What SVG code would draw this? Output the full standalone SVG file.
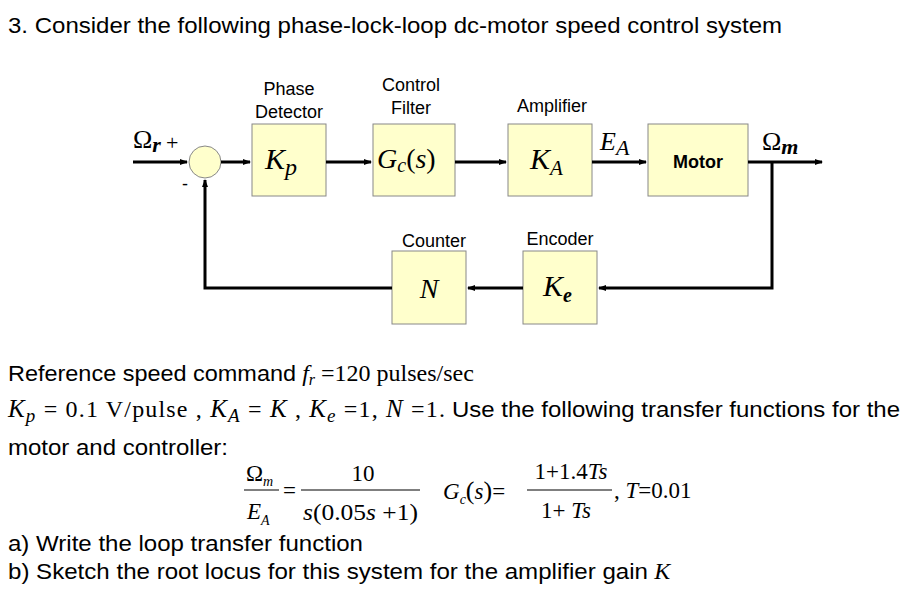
<svg xmlns="http://www.w3.org/2000/svg" width="913" height="592" viewBox="0 0 913 592">
<defs>
<marker id="ar" markerWidth="8" markerHeight="8" refX="7" refY="4" orient="auto" markerUnits="userSpaceOnUse"><path d="M0,1 L8,4 L0,7 z" fill="#000"/></marker>
</defs>
<style>
.b{fill:#ffffcc;stroke:#888;stroke-width:1}
.w{stroke:#000;stroke-width:3;fill:none}
.s{font-family:"Liberation Sans",Arial,sans-serif;font-size:18px}
.t{font-family:"Liberation Sans",Arial,sans-serif;font-size:22px}
.m{font-family:"Liberation Serif","Times New Roman",serif;font-style:italic}
.r{font-family:"Liberation Serif","Times New Roman",serif}
</style>
<rect width="913" height="592" fill="#fff"/>
<text class="t" x="8" y="33" textLength="774" lengthAdjust="spacingAndGlyphs">3. Consider the following phase-lock-loop dc-motor speed control system</text>
<g id="sum"><circle cx="205" cy="162" r="16" fill="#ffffcc" stroke="#888"/></g>
<g id="kp"><rect class="b" x="252" y="124" width="74" height="72"/><text class="m" x="265" y="169" font-size="30">K<tspan font-size="24" dy="6">p</tspan></text></g>
<g id="gc"><rect class="b" x="373" y="124" width="82" height="72"/><text class="m" x="377" y="168" font-size="28">G<tspan font-size="20" dy="4">c</tspan><tspan class="r" font-style="normal" dy="-4">(</tspan>s<tspan class="r" font-style="normal">)</tspan></text></g>
<g id="ka"><rect class="b" x="508" y="124" width="84" height="72"/><text class="m" x="530" y="169" font-size="30">K<tspan font-size="21" dy="6">A</tspan></text></g>
<g id="motor"><rect class="b" x="648" y="124" width="100" height="72"/><text x="698" y="168" text-anchor="middle" font-family="Liberation Sans,Arial,sans-serif" font-weight="bold" font-size="18">Motor</text></g>
<g id="n"><rect class="b" x="392" y="251" width="74" height="73"/><text class="m" x="429" y="298" font-size="28" text-anchor="middle">N</text></g>
<g id="ke"><rect class="b" x="523" y="251" width="74" height="73"/><text class="m" x="543" y="296" font-size="30">K<tspan font-size="20" dy="6" font-weight="bold">e</tspan></text></g>
<g id="connectors">
<line class="w" x1="133" y1="162" x2="187" y2="162" marker-end="url(#ar)"/>
<line class="w" x1="221" y1="162" x2="250" y2="162" marker-end="url(#ar)"/>
<line class="w" x1="326" y1="162" x2="371" y2="162" marker-end="url(#ar)"/>
<line class="w" x1="455" y1="162" x2="506" y2="162" marker-end="url(#ar)"/>
<line class="w" x1="592" y1="162" x2="646" y2="162" marker-end="url(#ar)"/>
<line class="w" x1="748" y1="162" x2="822" y2="162" marker-end="url(#ar)"/>
<polyline class="w" points="772,162 772,288 599,288" marker-end="url(#ar)"/>
<line class="w" x1="523" y1="288" x2="468" y2="288" marker-end="url(#ar)"/>
<polyline class="w" points="392,288 205,288 205,180" marker-end="url(#ar)"/>
</g>
<g class="s" text-anchor="middle">
<text x="289" y="95">Phase</text><text x="289" y="118">Detector</text>
<text x="411" y="91">Control</text><text x="411" y="114">Filter</text>
<text x="552" y="112">Amplifier</text>
<text x="434" y="247">Counter</text>
<text x="560" y="245">Encoder</text>
</g>
<text class="r" x="133" y="148" font-size="26">Ω<tspan class="m" font-size="22" dy="4" font-weight="bold">r</tspan></text>
<text class="r" x="166" y="150" font-size="22">+</text>
<text class="s" x="182" y="190">-</text>
<text class="m" x="600" y="150" font-size="26">E<tspan font-size="22" dy="5">A</tspan></text>
<text class="r" x="762" y="150" font-size="26">Ω<tspan class="m" font-size="22" dy="4" font-weight="bold">m</tspan></text>
<text class="t" x="8" y="381"><tspan textLength="288" lengthAdjust="spacingAndGlyphs">Reference speed command</tspan> <tspan class="m" font-size="24">f<tspan font-size="16" dy="4">r</tspan></tspan><tspan class="r" font-size="24" dy="-4"> =120 pulses/sec</tspan></text>
<text x="8" y="417" textLength="437" lengthAdjust="spacing"><tspan class="m" font-size="25">K<tspan font-size="19" dy="5">p</tspan></tspan><tspan class="r" font-size="24" dy="-5"> = 0.1 V/pulse , </tspan><tspan class="m" font-size="25">K<tspan font-size="19" dy="5">A</tspan></tspan><tspan class="r" font-size="24" dy="-5"> = </tspan><tspan class="m" font-size="25">K</tspan><tspan class="r" font-size="24"> , </tspan><tspan class="m" font-size="25">K<tspan font-size="19" dy="5">e</tspan></tspan><tspan class="r" font-size="24" dy="-5"> =1, </tspan><tspan class="m" font-size="25">N</tspan><tspan class="r" font-size="24"> =1.</tspan></text>
<text class="t" x="452" y="417" textLength="448" lengthAdjust="spacingAndGlyphs">Use the following transfer functions for the</text>
<text class="t" x="8" y="455" textLength="220" lengthAdjust="spacingAndGlyphs">motor and controller:</text>
<g font-size="23">
<text class="r" x="246" y="481">Ω<tspan class="m" font-size="14" dy="5">m</tspan></text>
<line x1="244" y1="490" x2="279" y2="490" stroke="#000" stroke-width="1.2"/>
<text class="m" x="247" y="519">E<tspan font-size="14" dy="6">A</tspan></text>
<text class="r" x="283" y="498">=</text>
<text class="r" x="363" y="481" text-anchor="middle">10</text>
<line x1="301" y1="490" x2="420" y2="490" stroke="#000" stroke-width="1.2"/>
<text class="r" x="303" y="520" textLength="115" lengthAdjust="spacingAndGlyphs"><tspan class="m">s</tspan>(0.05<tspan class="m">s</tspan> +1)</text>
<text class="m" x="443" y="499">G<tspan font-size="14" dy="5">c</tspan><tspan class="r" font-style="normal" font-size="26" dy="-5">(</tspan>s<tspan class="r" font-style="normal" font-size="26">)</tspan><tspan class="r" font-style="normal">=</tspan></text>
<line x1="527" y1="490" x2="612" y2="490" stroke="#000" stroke-width="1.2"/>
<text class="r" x="571" y="479" text-anchor="middle">1+1.4<tspan class="m">Ts</tspan></text>
<text class="r" x="566" y="518" text-anchor="middle">1+ <tspan class="m">Ts</tspan></text>
<text class="r" x="614" y="498">,  <tspan class="m">T</tspan>=0.01</text>
</g>
<text class="t" x="8" y="551" textLength="355" lengthAdjust="spacingAndGlyphs">a) Write the loop transfer function</text>
<text class="t" x="8" y="579"><tspan textLength="640" lengthAdjust="spacingAndGlyphs">b) Sketch the root locus for this system for the amplifier gain</tspan> <tspan class="m" font-size="24">K</tspan></text>
</svg>
